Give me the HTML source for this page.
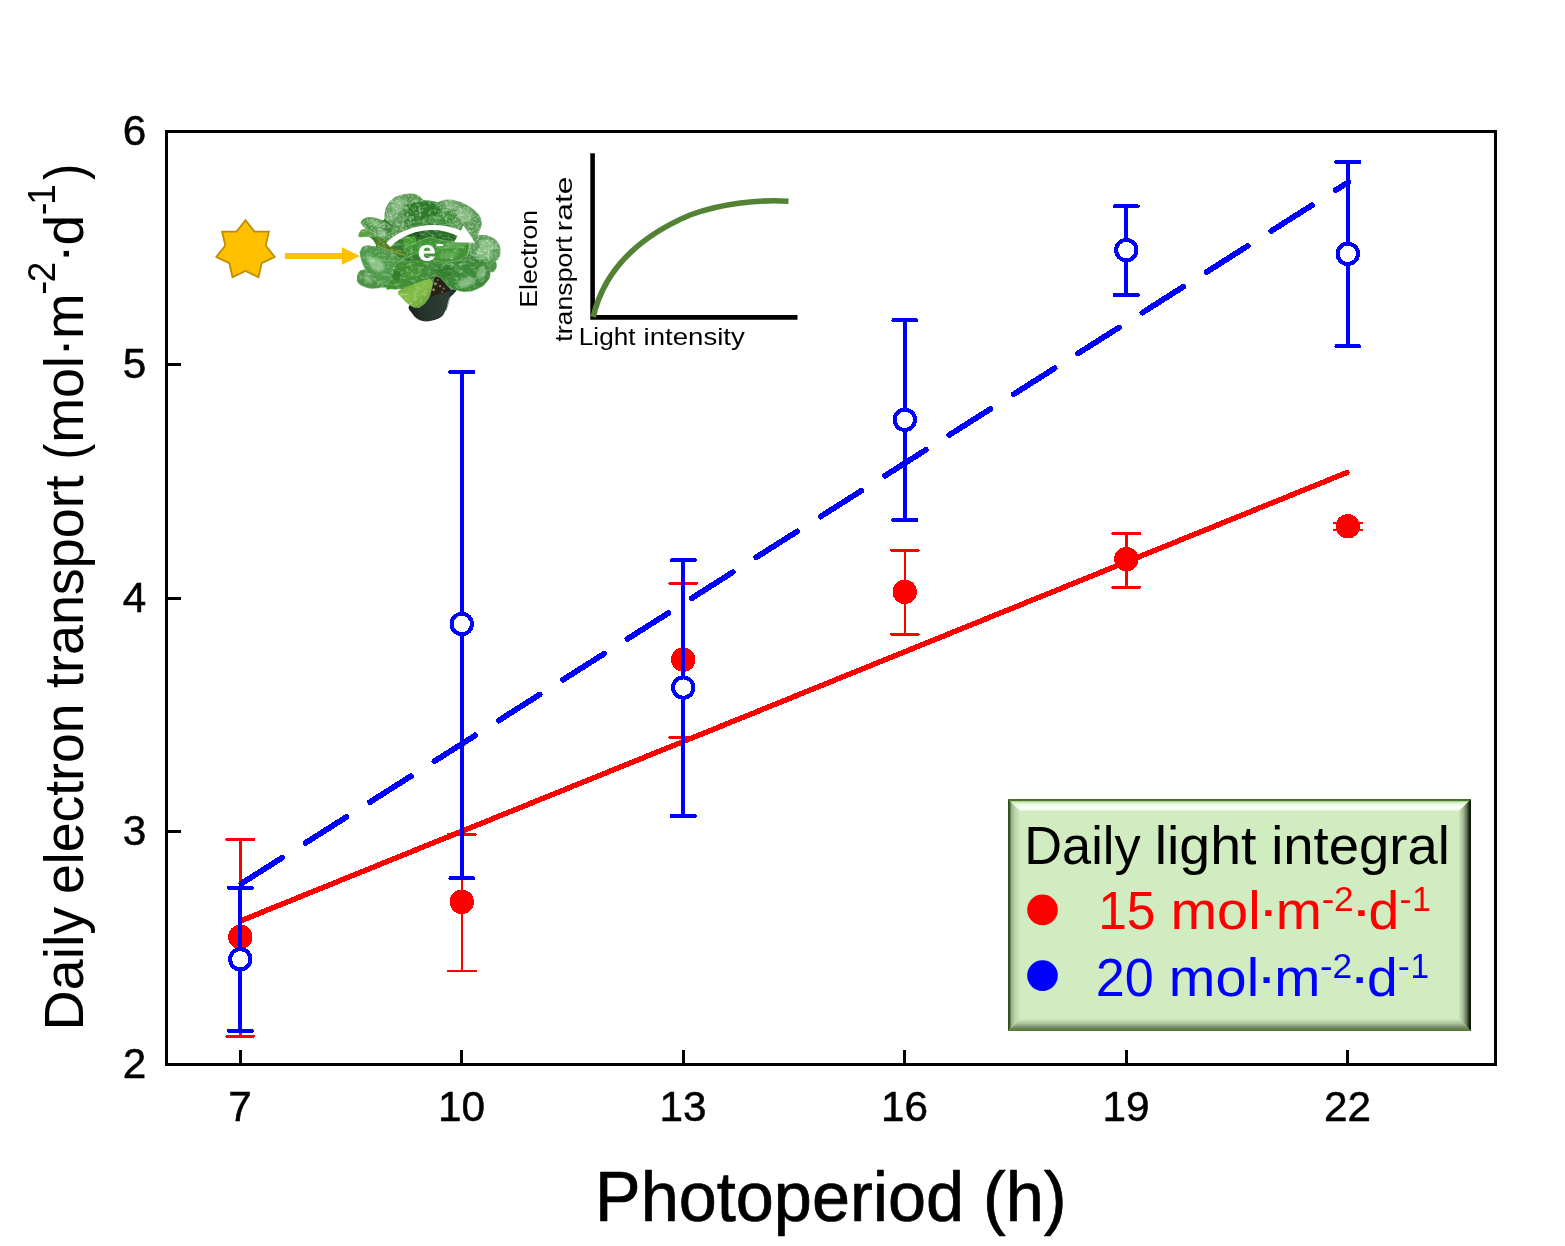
<!DOCTYPE html>
<html lang="en">
<head>
<meta charset="utf-8">
<title>Daily electron transport vs photoperiod</title>
<style>
html,body{margin:0;padding:0;background:#fff;}
body{width:1565px;height:1246px;overflow:hidden;font-family:"Liberation Sans",Arial,sans-serif;}
svg{display:block;}
</style>
</head>
<body>
<svg width="1565" height="1246" viewBox="0 0 1565 1246" font-family="'Liberation Sans', Arial, sans-serif">
<defs>
<linearGradient id="bvT" x1="0" y1="0" x2="0" y2="1">
<stop offset="0" stop-color="#436a22"/><stop offset="0.13" stop-color="#4f7a2b"/><stop offset="0.23" stop-color="#c6e7b1"/><stop offset="0.45" stop-color="#effae7"/><stop offset="0.75" stop-color="#fcfff8"/><stop offset="0.92" stop-color="#f2fbea"/><stop offset="1" stop-color="#d8f0c8"/>
</linearGradient>
<linearGradient id="bvB" x1="0" y1="1" x2="0" y2="0">
<stop offset="0" stop-color="#527a36"/><stop offset="0.12" stop-color="#5b8040"/><stop offset="0.3" stop-color="#768a6b"/><stop offset="0.6" stop-color="#a9bf9a"/><stop offset="1" stop-color="#cfe9be"/>
</linearGradient>
<linearGradient id="bvL" x1="0" y1="0" x2="1" y2="0">
<stop offset="0" stop-color="#2c4a18"/><stop offset="0.14" stop-color="#3d5d28"/><stop offset="0.3" stop-color="#9fb590"/><stop offset="0.6" stop-color="#bcd4ab"/><stop offset="1" stop-color="#cfe9be"/>
</linearGradient>
<linearGradient id="bvR" x1="1" y1="0" x2="0" y2="0">
<stop offset="0" stop-color="#0a1704"/><stop offset="0.14" stop-color="#14230d"/><stop offset="0.35" stop-color="#5d7052"/><stop offset="0.65" stop-color="#a3b994"/><stop offset="1" stop-color="#cbe5ba"/>
</linearGradient>
</defs>

<rect x="0" y="0" width="1565" height="1246" fill="#ffffff"/>
<g id="red-series" shape-rendering="crispEdges">
<path d="M240.3 839.5V1036.4M226.5 839.5H254.1M226.5 1036.4H254.1" stroke="#ff0000" stroke-width="2.4" fill="none" stroke-linecap="round"/>
<circle cx="240.3" cy="936.9" r="12.2" fill="#ff0000"/>
<path d="M461.8 834.4V971.2M448.0 834.4H475.6M448.0 971.2H475.6" stroke="#ff0000" stroke-width="2.4" fill="none" stroke-linecap="round"/>
<circle cx="461.8" cy="901.8" r="12.2" fill="#ff0000"/>
<path d="M683.3 583.4V737.5M669.5 583.4H697.1M669.5 737.5H697.1" stroke="#ff0000" stroke-width="2.4" fill="none" stroke-linecap="round"/>
<circle cx="683.3" cy="659.6" r="12.2" fill="#ff0000"/>
<path d="M904.8 550.4V634.4M891.0 550.4H918.6M891.0 634.4H918.6" stroke="#ff0000" stroke-width="2.4" fill="none" stroke-linecap="round"/>
<circle cx="904.8" cy="591.9" r="12.2" fill="#ff0000"/>
<path d="M1126.3 533.5V587.4M1112.5 533.5H1140.1M1112.5 587.4H1140.1" stroke="#ff0000" stroke-width="2.4" fill="none" stroke-linecap="round"/>
<circle cx="1126.3" cy="559.1" r="12.2" fill="#ff0000"/>
<path d="M1347.8 523.2V529.8M1334.0 523.2H1361.6M1334.0 529.8H1361.6" stroke="#ff0000" stroke-width="2.4" fill="none" stroke-linecap="round"/>
<circle cx="1347.8" cy="526.3" r="12.2" fill="#ff0000"/>
<line x1="242.3" y1="920.2" x2="1346.8" y2="472.6" stroke="#ff0000" stroke-width="5.4" stroke-linecap="round"/>
</g>
<g id="blue-series" shape-rendering="crispEdges">
<line x1="241.3" y1="883.6" x2="1348.3" y2="182.2" stroke="#0000ff" stroke-width="5.8" stroke-linecap="round" stroke-dasharray="48.4 27.8"/>
<path d="M240.3 887.9V1030.8M228.8 887.9H251.8M228.8 1030.8H251.8" stroke="#0000ff" stroke-width="4" fill="none" stroke-linecap="round"/>
<circle cx="240.3" cy="959.3" r="10.2" fill="#ffffff" stroke="#0000ff" stroke-width="4"/>
<path d="M461.8 372.0V878.2M450.3 372.0H473.3M450.3 878.2H473.3" stroke="#0000ff" stroke-width="4" fill="none" stroke-linecap="round"/>
<circle cx="461.8" cy="624.0" r="10.2" fill="#ffffff" stroke="#0000ff" stroke-width="4"/>
<path d="M683.3 560.2V816.0M671.8 560.2H694.8M671.8 816.0H694.8" stroke="#0000ff" stroke-width="4" fill="none" stroke-linecap="round"/>
<circle cx="683.3" cy="687.6" r="10.2" fill="#ffffff" stroke="#0000ff" stroke-width="4"/>
<path d="M904.8 320.2V520.0M893.3 320.2H916.3M893.3 520.0H916.3" stroke="#0000ff" stroke-width="4" fill="none" stroke-linecap="round"/>
<circle cx="904.8" cy="419.8" r="10.2" fill="#ffffff" stroke="#0000ff" stroke-width="4"/>
<path d="M1126.3 206.3V295.0M1114.8 206.3H1137.8M1114.8 295.0H1137.8" stroke="#0000ff" stroke-width="4" fill="none" stroke-linecap="round"/>
<circle cx="1126.3" cy="250.1" r="10.2" fill="#ffffff" stroke="#0000ff" stroke-width="4"/>
<path d="M1347.8 162.1V346.2M1336.3 162.1H1359.3M1336.3 346.2H1359.3" stroke="#0000ff" stroke-width="4" fill="none" stroke-linecap="round"/>
<circle cx="1347.8" cy="253.8" r="10.2" fill="#ffffff" stroke="#0000ff" stroke-width="4"/>
</g>
<g id="axes" stroke="#000" stroke-width="3" fill="none" shape-rendering="crispEdges">
<rect x="166.5" y="131.5" width="1329.0" height="933.0"/>
<path d="M240.3 1064.5v-14.5M461.8 1064.5v-14.5M683.3 1064.5v-14.5M904.8 1064.5v-14.5M1126.3 1064.5v-14.5M1347.8 1064.5v-14.5M166.5 831.2h14.5M166.5 598.0h14.5M166.5 364.8h14.5"/>
</g>
<g id="ticklabels" font-size="42.3" fill="#000" stroke="#000" stroke-width="0.5">
<text x="240.0" y="1120.8" text-anchor="middle">7</text>
<text x="461.5" y="1120.8" text-anchor="middle">10</text>
<text x="683.0" y="1120.8" text-anchor="middle">13</text>
<text x="904.5" y="1120.8" text-anchor="middle">16</text>
<text x="1126.0" y="1120.8" text-anchor="middle">19</text>
<text x="1347.5" y="1120.8" text-anchor="middle">22</text>
<text x="146.2" y="1078.0" text-anchor="end">2</text>
<text x="146.2" y="844.8" text-anchor="end">3</text>
<text x="146.2" y="611.5" text-anchor="end">4</text>
<text x="146.2" y="378.2" text-anchor="end">5</text>
<text x="146.2" y="145.0" text-anchor="end">6</text>
</g>
<g id="xtitle">
<text transform="translate(595.06 1221.00) scale(0.9975 1.0370)" font-size="68.6" fill="#000" stroke="#000" stroke-width="0.7" stroke-linejoin="round">Photoperiod (h)</text>
</g>
<g id="ytitle">
<text transform="translate(83.20 1030.38) rotate(-90) scale(1.0389 1.0340)" font-size="53.5" fill="#000">Daily</text>
<text transform="translate(83.20 894.05) rotate(-90) scale(1.0016 1.0340)" font-size="53.5" fill="#000">electron</text>
<text transform="translate(83.20 687.96) rotate(-90) scale(1.0071 1.0340)" font-size="53.5" fill="#000">transport</text>
<text transform="translate(83.20 459.60) rotate(-90) scale(0.8912 1.0340)" font-size="53.5" fill="#000">(</text>
<text transform="translate(83.20 442.72) rotate(-90) scale(1.0051 1.0340)" font-size="53.5" fill="#000">mol</text>
<text transform="translate(79.80 357.37) rotate(-90) scale(1.1789 1.0000)" font-size="50" fill="#000">·</text>
<text transform="translate(83.20 339.07) rotate(-90) scale(1.0213 1.0340)" font-size="53.5" fill="#000">m</text>
<text transform="translate(55.30 295.06) rotate(-90) scale(1.1778 1.0314)" font-size="37" fill="#000">-</text>
<text transform="translate(55.30 282.34) rotate(-90) scale(0.9941 1.0314)" font-size="37" fill="#000">2</text>
<text transform="translate(79.80 263.57) rotate(-90) scale(1.1789 1.0000)" font-size="50" fill="#000">·</text>
<text transform="translate(83.20 245.62) rotate(-90) scale(1.0292 1.0340)" font-size="53.5" fill="#000">d</text>
<text transform="translate(55.30 215.31) rotate(-90) scale(1.0333 1.0314)" font-size="37" fill="#000">-</text>
<text transform="translate(55.30 204.65) rotate(-90) scale(1.0000 1.0314)" font-size="37" fill="#000">1</text>
<text transform="translate(83.20 179.95) rotate(-90) scale(0.9071 1.0340)" font-size="53.5" fill="#000">)</text>
</g>
<polygon points="245.5,220.3 254.5,231.5 268.9,231.6 265.7,245.6 274.7,256.9 261.7,263.1 258.5,277.1 245.5,270.9 232.5,277.1 229.3,263.1 216.3,256.9 225.3,245.6 222.1,231.6 236.5,231.5" fill="#ffc000" stroke="#bc8e00" stroke-width="1.8" stroke-linejoin="miter"/>
<path d="M285 253H342V247.3L360 256L342 264.8V259H285Z" fill="#ffc000"/>
<g id="lettuce">
<defs>
<filter id="soft" x="-10%" y="-10%" width="120%" height="120%"><feGaussianBlur stdDeviation="0.5"/></filter>
<filter id="soft2" x="-40%" y="-40%" width="180%" height="180%"><feGaussianBlur stdDeviation="1.3"/></filter>
<filter id="soft3" x="-40%" y="-40%" width="180%" height="180%"><feGaussianBlur stdDeviation="2.2"/></filter>
<filter id="speck" x="0" y="0" width="100%" height="100%">
<feTurbulence type="fractalNoise" baseFrequency="0.42" numOctaves="2" seed="5"/>
<feColorMatrix type="matrix" values="0 0 0 0 0.80  0 0 0 0 0.93  0 0 0 0 0.80  0 0 0 3.0 -1.5"/>
<feGaussianBlur stdDeviation="0.5"/>
</filter>
<filter id="speck2" x="0" y="0" width="100%" height="100%">
<feTurbulence type="fractalNoise" baseFrequency="0.22 0.3" numOctaves="3" seed="23"/>
<feColorMatrix type="matrix" values="0 0 0 0 0.85  0 0 0 0 0.96  0 0 0 0 0.86  0 0 0 2.4 -1.25"/>
<feGaussianBlur stdDeviation="0.6"/>
</filter>
<linearGradient id="potG" x1="0" y1="0" x2="1" y2="0"><stop offset="0" stop-color="#17221c"/><stop offset="0.35" stop-color="#26352d"/><stop offset="0.8" stop-color="#2f3e36"/><stop offset="1" stop-color="#1c2922"/></linearGradient>
<linearGradient id="lfK" x1="0" y1="0" x2="1" y2="1"><stop offset="0" stop-color="#6aa828"/><stop offset="0.5" stop-color="#86be4a"/><stop offset="1" stop-color="#5f9e30"/></linearGradient>
</defs>
<path d="M409.3 305.7C407.2 308.7 410.3 310.5 412.0 313.2C413.7 315.9 415.4 317.6 418.0 319.2C420.7 320.9 422.8 321.0 425.2 321.3C427.6 321.7 427.7 321.5 430.0 321.0C432.3 320.6 434.2 320.2 436.6 319.2C439.0 318.3 440.4 317.8 442.0 316.2C443.7 314.7 444.1 313.2 445.0 311.4C446.0 309.6 446.3 309.1 446.9 307.2C447.5 305.3 447.5 303.7 448.1 301.8C448.7 299.8 448.7 299.2 449.9 297.6C451.1 295.9 452.8 295.0 454.1 293.3C455.3 291.7 457.4 290.2 456.2 289.4C455.0 288.7 452.1 289.2 448.1 289.7C444.0 290.3 441.2 290.5 436.0 292.1C430.9 293.8 427.6 295.4 422.2 298.2C416.9 300.9 411.3 302.7 409.3 305.7Z" fill="url(#potG)" filter="url(#soft)"/>
<path d="M449.9 297.6C449.4 299.3 449.0 300.8 448.1 304.2C447.1 307.5 446.7 308.6 446.3 310.2" fill="none" stroke="#55665d" stroke-width="1.0" stroke-linecap="round" opacity="0.6" filter="url(#soft)"/>
<path d="M427.6 278.9C428.9 273.6 430.6 276.5 433.6 275.9C436.7 275.2 436.1 275.0 439.0 276.5C441.9 277.9 441.4 278.1 444.4 281.3C447.5 284.5 449.8 285.6 450.5 288.5C451.1 291.4 450.4 290.5 446.9 292.1C443.3 293.7 442.0 293.6 437.2 294.5C432.4 295.5 431.4 299.9 428.8 295.7C426.2 291.6 426.3 284.2 427.6 278.9Z" fill="#2a2419" filter="url(#soft)"/>
<circle cx="435.4" cy="283.7" r="1.5" fill="#a38c62" filter="url(#soft)"/>
<circle cx="440.2" cy="286.1" r="1.2" fill="#8f7a55" filter="url(#soft)"/>
<circle cx="433.6" cy="289.7" r="1.3" fill="#b09a70" filter="url(#soft)"/>
<circle cx="443.8" cy="288.5" r="1.1" fill="#9a7c52" filter="url(#soft)"/>
<circle cx="437.8" cy="280.1" r="1.0" fill="#7d6c4c" filter="url(#soft)"/>
<circle cx="442.0" cy="292.1" r="1.0" fill="#6f5f45" filter="url(#soft)"/>
<circle cx="431.2" cy="286.1" r="1.0" fill="#85734f" filter="url(#soft)"/>
<path d="M388.4 203.6C390.3 201.1 392.9 198.3 396.5 196.6C400.2 195.0 406.6 193.6 410.5 193.7C414.4 193.8 417.3 196.0 419.8 197.2C422.3 198.5 423.3 200.6 425.6 201.3C428.0 202.0 431.3 201.0 433.8 201.3C436.3 201.6 438.2 203.2 440.8 203.0C443.3 202.8 445.4 200.2 448.9 200.1C452.4 200.0 458.0 201.1 461.7 202.5C465.4 203.8 468.1 206.1 471.0 208.3C473.9 210.4 477.4 212.5 479.2 215.3C480.9 218.0 481.7 221.5 481.5 224.6C481.3 227.7 478.9 231.9 478.0 233.9C477.1 235.8 475.1 236.0 476.3 236.2C477.4 236.4 481.8 234.5 485.0 235.0C488.2 235.6 492.9 237.6 495.5 239.7C498.0 241.8 499.6 244.9 500.1 247.8C500.6 250.7 499.2 255.0 498.4 257.1C497.5 259.3 495.2 259.1 494.9 260.6C494.6 262.2 496.8 264.7 496.6 266.5C496.4 268.2 494.9 270.0 493.7 271.1C492.5 272.2 490.7 271.3 489.6 272.9C488.6 274.4 489.2 277.8 487.3 280.4C485.4 283.0 481.5 286.8 478.0 288.6C474.5 290.3 470.1 290.9 466.4 291.1C462.6 291.3 458.4 290.5 455.3 289.7C452.2 288.9 450.2 288.2 447.7 286.2C445.3 284.3 442.9 279.4 440.8 278.1C438.6 276.7 436.5 276.1 434.9 278.1C433.4 280.0 433.2 285.8 431.5 289.7C429.7 293.6 427.2 298.5 424.5 301.4C421.8 304.3 418.1 307.0 415.2 307.2C412.3 307.4 409.7 304.9 407.0 302.5C404.3 300.2 399.8 295.3 398.9 293.2C397.9 291.1 402.0 290.7 401.2 289.7C400.4 288.8 397.3 287.8 394.2 287.4C391.1 287.0 385.7 287.6 382.6 287.4C379.5 287.2 378.3 286.4 375.6 286.5C372.9 286.5 369.0 288.3 366.3 287.6C363.6 287.0 360.9 284.5 359.3 282.7C357.8 281.0 356.9 278.9 357.0 276.9C357.1 275.0 358.5 272.5 359.9 271.1C361.2 269.7 364.8 270.5 365.1 268.8C365.4 267.0 362.4 263.3 361.6 260.6C360.9 257.9 360.3 254.8 360.5 252.5C360.7 250.2 361.4 247.8 362.8 246.7C364.2 245.5 366.4 245.6 368.6 245.5C370.8 245.4 375.8 247.3 376.2 246.1C376.6 244.8 373.4 239.6 370.9 237.9C368.5 236.3 363.6 236.9 361.6 236.2C359.7 235.5 359.1 234.9 359.1 233.9C359.1 232.8 360.2 230.6 361.6 229.8C363.0 229.0 367.5 230.5 367.5 229.2C367.5 228.0 362.0 224.1 361.6 222.2C361.2 220.4 363.2 218.9 365.1 218.2C367.1 217.4 370.2 217.3 373.3 217.6C376.4 217.9 381.8 220.9 383.7 219.9C385.7 218.9 384.1 214.5 384.9 211.8C385.7 209.0 386.5 206.1 388.4 203.6Z" fill="#347c2f" filter="url(#soft)"/>
<path d="M384.9 216.3C385.1 213.1 385.4 212.2 387.3 207.9C389.2 203.5 388.9 203.3 392.1 200.0C395.3 196.8 394.5 197.5 399.4 195.8C404.2 194.1 405.4 193.9 410.2 193.7C415.0 193.6 414.2 193.5 417.4 195.2C420.6 196.9 420.5 196.4 422.2 200.0C424.0 203.7 425.6 203.5 424.0 209.1C422.4 214.7 420.7 216.0 416.2 221.1C411.7 226.3 411.7 225.8 407.2 228.3C402.7 230.9 403.4 231.7 399.4 230.7C395.3 229.8 395.5 227.6 392.1 224.7C388.8 221.8 388.6 222.2 386.7 219.9C384.8 217.7 384.8 219.5 384.9 216.3Z" fill="#5a9853" stroke="#a5d09c" stroke-width="0.6" stroke-opacity="0.6" filter="url(#soft)"/>
<path d="M433.6 204.9C433.9 202.3 433.4 203.8 437.2 202.5C441.1 201.1 442.3 199.9 448.1 199.7C453.8 199.6 453.4 200.2 458.9 201.9C464.4 203.5 463.7 203.0 468.5 206.1C473.3 209.1 473.6 209.3 477.0 213.3C480.3 217.3 480.3 217.1 481.2 221.1C482.0 225.1 481.5 224.3 480.3 228.3C479.0 232.4 478.5 233.3 476.4 236.2C474.2 239.1 475.5 241.6 472.1 239.2C468.8 236.8 467.9 229.4 463.7 227.1C459.5 224.9 461.5 232.4 456.5 230.7C451.5 229.1 450.5 226.1 445.0 221.1C439.6 216.1 439.1 216.4 436.0 212.1C433.0 207.8 433.3 207.4 433.6 204.9Z" fill="#5a9855" stroke="#a5d09c" stroke-width="0.6" stroke-opacity="0.6" filter="url(#soft)"/>
<path d="M401.2 204.9C403.0 201.5 404.7 204.8 410.2 203.7C415.7 202.6 416.4 201.5 421.6 200.8C426.9 200.0 426.8 200.3 430.0 200.8C433.2 201.2 431.2 201.2 433.6 202.5C436.0 203.7 436.5 203.4 439.0 205.5C441.5 207.6 442.8 207.7 442.9 210.3C443.1 212.9 442.1 212.7 439.6 215.1C437.1 217.5 437.4 217.1 433.6 219.3C429.8 221.6 429.9 221.8 425.2 223.5C420.6 225.3 421.4 225.0 416.2 225.9C411.1 226.9 409.4 229.7 406.0 227.1C402.5 224.6 404.6 222.2 403.3 216.3C402.0 210.4 399.3 208.2 401.2 204.9Z" fill="#3d8838" stroke="#8fc586" stroke-width="0.6" stroke-opacity="0.8" filter="url(#soft)"/>
<path d="M410.2 204.9C413.9 201.7 415.4 202.0 421.6 201.9C427.9 201.7 429.0 202.7 433.6 204.3C438.3 205.9 437.9 205.5 439.0 207.9C440.2 210.3 439.9 211.0 437.8 213.3C435.7 215.5 435.4 214.9 431.2 216.3C427.0 217.7 427.0 217.4 422.2 218.7C417.4 220.0 417.1 222.4 413.2 221.1C409.4 219.8 408.6 218.2 407.8 213.9C407.0 209.6 406.5 208.1 410.2 204.9Z" fill="#2f7a2c" filter="url(#soft)"/>
<path d="M435.4 217.8C435.6 214.8 437.7 215.3 440.2 213.3C442.8 211.3 441.4 210.6 445.0 210.3C448.7 210.0 450.8 210.5 454.1 212.1C457.4 213.7 457.7 213.9 457.4 216.3C457.1 218.7 455.4 219.1 452.9 221.1C450.4 223.1 451.6 222.9 448.1 223.8C444.5 224.7 443.0 226.0 439.6 224.4C436.3 222.8 435.3 220.8 435.4 217.8Z" fill="#428f3d" stroke="#9acb90" stroke-width="0.6" stroke-opacity="0.6" filter="url(#soft)"/>
<path d="M430.0 217.5C431.0 215.9 431.5 215.3 433.6 216.3C435.7 217.3 437.2 219.2 437.8 221.1C438.5 223.0 438.1 223.2 436.0 223.5C433.9 223.8 431.6 223.9 430.0 222.3C428.4 220.7 429.0 219.1 430.0 217.5Z" fill="#4d9a48" stroke="#9acb90" stroke-width="0.6" stroke-opacity="0.6" filter="url(#soft)"/>
<path d="M361.1 221.7C361.9 220.0 362.7 219.6 365.0 218.4C367.4 217.3 366.2 217.1 369.9 217.4C373.6 217.6 374.6 217.7 378.9 219.3C383.2 220.9 382.6 221.4 386.1 223.5C389.6 225.6 388.4 225.1 392.1 227.1C395.8 229.1 399.0 228.5 400.0 231.0C400.9 233.6 398.8 233.6 395.7 236.8C392.7 239.9 391.7 242.1 388.5 242.8C385.3 243.4 386.9 240.5 383.7 239.2C380.5 237.9 379.1 239.6 376.5 238.0C373.9 236.4 376.6 235.4 374.1 233.2C371.5 230.9 370.1 231.8 366.9 229.5C363.6 227.3 363.6 226.8 362.0 224.7C360.5 222.6 360.3 223.4 361.1 221.7Z" fill="#4f9648" stroke="#a8d4a0" stroke-width="0.6" stroke-opacity="0.6" filter="url(#soft)"/>
<path d="M359.0 233.8C359.7 232.1 360.1 231.9 362.0 230.7C364.0 229.6 363.0 228.6 366.3 229.5C369.5 230.5 371.7 232.4 374.1 234.4C376.5 236.3 376.9 236.2 375.3 236.8C373.7 237.3 372.2 236.4 368.1 236.5C363.9 236.5 362.0 237.6 359.6 236.9C357.2 236.2 358.4 235.4 359.0 233.8Z" fill="#5aa040" stroke="#a8d4a0" stroke-width="0.6" stroke-opacity="0.6" filter="url(#soft)"/>
<path d="M375.9 236.8C377.6 235.0 380.3 237.6 383.7 239.2C387.1 240.8 385.3 240.4 388.5 242.8C391.7 245.2 390.6 245.3 395.7 248.2C400.9 251.1 405.5 251.4 407.8 253.6C410.0 255.9 408.3 256.6 404.2 256.6C400.0 256.6 398.2 255.7 392.1 253.6C386.0 251.5 385.3 250.9 381.3 248.8C377.3 246.7 378.5 249.0 377.1 245.8C375.6 242.6 374.1 238.5 375.9 236.8Z" fill="#4d7f24" filter="url(#soft)"/>
<path d="M378.3 246.4C380.4 247.1 381.5 247.5 386.1 249.1C390.8 250.7 390.9 250.9 395.7 252.4C400.6 253.9 401.9 254.2 404.2 254.8" fill="none" stroke="#7faf45" stroke-width="1.3" stroke-linecap="round" opacity="0.9" filter="url(#soft)"/>
<path d="M471.5 239.2C473.1 236.8 473.2 237.3 475.7 236.2C478.3 235.0 477.3 234.8 481.2 235.0C485.0 235.1 485.9 234.8 490.2 236.8C494.5 238.7 494.8 239.0 497.4 242.2C500.1 245.4 499.5 245.1 500.1 248.8C500.8 252.5 500.1 253.8 499.8 256.0C499.6 258.3 500.5 255.8 499.2 257.2C497.9 258.7 498.2 260.2 495.0 261.4C491.8 262.7 491.7 262.7 487.2 262.0C482.7 261.4 482.2 261.0 478.2 259.0C474.1 257.1 474.4 258.5 472.1 254.8C469.9 251.1 469.9 249.4 469.7 245.2C469.6 241.0 469.9 241.6 471.5 239.2Z" fill="#599a54" stroke="#b0d8a8" stroke-width="0.6" stroke-opacity="0.6" filter="url(#soft)"/>
<path d="M489.0 259.0C490.9 257.1 493.0 259.1 495.0 260.8C497.0 262.6 496.5 263.2 496.5 265.7C496.5 268.1 496.4 268.2 495.0 269.9C493.6 271.6 493.3 272.5 491.4 272.0C489.5 271.5 488.4 271.5 487.8 268.1C487.1 264.6 487.1 261.0 489.0 259.0Z" fill="#4f9548" stroke="#a8d4a0" stroke-width="0.6" stroke-opacity="0.6" filter="url(#soft)"/>
<path d="M404.2 238.0C405.8 234.8 406.2 235.1 410.2 233.2C414.2 231.2 413.9 231.6 419.2 230.7C424.5 229.9 423.9 230.0 430.0 230.1C436.1 230.3 434.8 229.6 442.0 231.4C449.3 233.1 454.2 234.2 457.1 236.8C460.0 239.3 456.9 239.5 452.9 241.0C448.9 242.4 448.1 241.1 442.0 242.2C435.9 243.3 436.1 242.8 430.0 245.2C423.9 247.6 424.8 249.1 419.2 251.2C413.6 253.3 413.0 254.6 409.0 253.0C405.0 251.4 405.5 249.2 404.2 245.2C402.9 241.2 402.6 241.2 404.2 238.0Z" fill="#2a6d25" filter="url(#soft)"/>
<path d="M404.2 239.2C406.1 236.9 407.6 236.8 410.8 236.8C414.0 236.8 415.6 236.9 416.2 239.2C416.9 241.4 415.6 242.8 413.2 245.2C410.8 247.6 409.8 248.2 407.2 248.2C404.6 248.2 404.4 247.6 403.6 245.2C402.8 242.8 402.2 241.4 404.2 239.2Z" fill="#4aa030" filter="url(#soft)"/>
<path d="M413.8 232.0C414.9 231.1 417.9 231.9 419.2 233.2C420.5 234.4 419.7 236.0 418.6 236.8C417.5 237.6 416.3 237.5 415.0 236.2C413.7 234.9 412.7 232.8 413.8 232.0Z" fill="#184a18" filter="url(#soft)"/>
<path d="M404.2 250.0C405.0 247.6 406.2 247.6 410.2 245.2C414.2 242.8 413.9 243.1 419.2 241.0C424.5 238.9 425.0 237.9 430.0 237.4C435.0 236.9 433.0 238.2 437.8 239.2C442.6 240.1 442.9 240.3 448.1 241.0C453.2 241.6 452.3 241.1 457.1 241.6C461.9 242.1 462.7 241.8 466.1 242.8C469.5 243.8 469.1 242.9 469.7 245.2C470.4 247.4 469.5 248.3 468.5 251.2C467.6 254.1 470.0 253.3 466.1 256.0C462.3 258.7 462.1 260.1 454.1 261.4C446.1 262.8 442.4 262.3 436.0 261.1C429.6 260.0 434.5 259.2 430.0 257.2C425.5 255.2 424.5 253.9 419.2 253.6C413.9 253.3 415.0 254.1 410.2 256.0C405.4 257.9 405.2 258.6 401.2 260.8C397.2 263.1 393.5 266.2 395.1 264.4C396.8 262.7 404.8 258.1 407.2 254.2C409.6 250.4 403.4 252.4 404.2 250.0Z" fill="#3f9436" stroke="#a8d89a" stroke-width="0.6" stroke-opacity="0.8" filter="url(#soft)"/>
<path d="M437.8 245.2C442.6 243.6 446.5 242.7 454.1 242.2C461.6 241.6 464.5 241.6 466.1 243.1C467.7 244.5 465.7 246.1 460.1 247.6C454.5 249.1 451.5 248.6 445.0 248.8C438.6 249.0 437.9 249.2 436.0 248.2C434.1 247.2 433.0 246.8 437.8 245.2Z" fill="#5aa850" filter="url(#soft)"/>
<path d="M425.2 263.8C426.5 258.6 425.5 261.9 430.0 261.7C434.5 261.6 434.0 263.7 442.0 263.4C450.1 263.0 450.5 261.5 460.1 260.4C469.7 259.2 470.9 257.8 478.2 259.0C485.4 260.3 484.0 261.0 487.2 265.0C490.4 269.1 490.4 269.4 490.2 274.1C490.0 278.7 489.5 278.7 486.3 282.5C483.1 286.4 483.5 286.1 478.2 288.5C472.8 291.0 472.1 291.3 466.1 291.7C460.2 292.0 460.2 290.8 455.9 289.8C451.6 288.9 453.1 290.3 449.9 288.0C446.7 285.8 447.1 284.4 443.8 281.3C440.6 278.3 440.9 278.1 437.8 276.6C434.8 275.2 435.8 274.6 432.4 275.9C429.0 277.1 427.1 284.5 425.2 281.3C423.3 278.1 423.9 269.1 425.2 263.8Z" fill="#3d8a38" stroke="#9fd096" stroke-width="0.6" stroke-opacity="0.6" filter="url(#soft)"/>
<path d="M392.1 265.0C397.0 258.6 396.1 263.0 404.2 262.0C412.2 261.1 415.8 259.8 422.2 261.4C428.7 263.0 427.3 263.4 428.3 268.1C429.2 272.7 429.1 274.7 425.8 278.9C422.6 283.1 421.2 281.6 416.2 283.7C411.2 285.8 411.7 285.4 407.2 286.7C402.7 288.1 403.4 288.2 399.4 288.8C395.3 289.5 395.7 289.8 392.1 289.1C388.6 288.4 386.1 292.5 386.1 286.1C386.1 279.7 387.3 271.5 392.1 265.0Z" fill="#3f8f30" stroke="#8cc47e" stroke-width="0.6" stroke-opacity="0.6" filter="url(#soft)"/>
<path d="M357.1 279.2C357.1 276.6 357.2 276.6 359.0 274.1C360.8 271.6 361.1 269.9 363.8 269.9C366.6 269.9 365.7 271.0 369.3 274.1C372.8 277.1 373.8 278.1 377.1 281.3C380.4 284.5 382.4 284.2 381.6 286.1C380.8 288.1 378.5 288.5 374.1 288.6C369.7 288.8 369.1 288.2 365.0 286.8C361.0 285.5 361.1 285.7 359.0 283.7C356.9 281.7 357.1 281.8 357.1 279.2Z" fill="#4c9244" stroke="#b0d8a8" stroke-width="0.6" stroke-opacity="0.6" filter="url(#soft)"/>
<path d="M360.2 251.2C361.6 249.3 361.4 247.6 365.0 246.5C368.7 245.4 368.5 245.7 374.1 247.0C379.7 248.3 379.7 248.5 386.1 251.2C392.5 253.9 395.6 253.9 398.2 257.2C400.7 260.6 397.0 260.5 395.7 263.8C394.5 267.2 394.6 266.0 393.3 269.9C392.1 273.7 392.9 274.6 390.9 278.3C389.0 282.0 389.3 282.6 386.1 283.7C382.9 284.8 382.7 284.3 378.9 282.5C375.0 280.7 375.2 280.5 371.7 277.1C368.1 273.7 368.2 273.9 365.7 269.9C363.1 265.9 363.6 266.4 362.0 262.0C360.5 257.7 360.4 256.5 359.9 253.6C359.5 250.7 358.9 253.1 360.2 251.2Z" fill="#4f9a4c" stroke="#b0d8a8" stroke-width="0.6" stroke-opacity="0.6" filter="url(#soft)"/>
<path d="M398.2 292.1C398.6 289.6 399.4 290.8 404.2 288.5C409.0 286.3 410.1 286.0 416.2 283.7C422.3 281.5 422.9 280.7 427.1 280.1C431.2 279.5 430.9 278.1 431.9 281.3C432.8 284.5 431.8 287.3 430.7 292.1C429.5 297.0 429.9 295.8 427.7 299.4C425.4 302.9 425.3 303.2 422.2 305.4C419.2 307.6 419.7 307.9 416.2 307.6C412.7 307.3 412.7 306.7 409.0 304.2C405.3 301.7 405.3 301.4 402.4 298.2C399.5 294.9 397.7 294.7 398.2 292.1Z" fill="url(#lfK)" stroke="#a8d070" stroke-width="0.6" stroke-opacity="0.6" filter="url(#soft)"/>
<ellipse cx="377.1" cy="265.0" rx="8.5" ry="6.0" transform="rotate(35 377.1 265.0)" fill="#b5ddb0" opacity="0.6" filter="url(#soft2)"/>
<ellipse cx="369.9" cy="259.0" rx="5.0" ry="3.0" transform="rotate(40 369.9 259.0)" fill="#c5e6c0" opacity="0.5" filter="url(#soft2)"/>
<ellipse cx="398.2" cy="275.3" rx="6.0" ry="5.0" transform="rotate(0 398.2 275.3)" fill="#2a7026" opacity="0.6" filter="url(#soft2)"/>
<ellipse cx="368.1" cy="278.9" rx="5.0" ry="2.5" transform="rotate(40 368.1 278.9)" fill="#c0e2bc" opacity="0.55" filter="url(#soft2)"/>
<ellipse cx="466.1" cy="282.5" rx="9.0" ry="4.5" transform="rotate(-20 466.1 282.5)" fill="#b5dcb4" opacity="0.6" filter="url(#soft2)"/>
<ellipse cx="481.2" cy="272.9" rx="4.5" ry="7.0" transform="rotate(20 481.2 272.9)" fill="#b5dcb4" opacity="0.5" filter="url(#soft2)"/>
<ellipse cx="445.0" cy="271.1" rx="8.0" ry="6.0" transform="rotate(0 445.0 271.1)" fill="#2c7528" opacity="0.5" filter="url(#soft2)"/>
<ellipse cx="484.2" cy="253.6" rx="9.0" ry="5.0" transform="rotate(10 484.2 253.6)" fill="#b8deb4" opacity="0.5" filter="url(#soft2)"/>
<ellipse cx="487.2" cy="245.2" rx="8.0" ry="6.0" transform="rotate(10 487.2 245.2)" fill="#b8deb4" opacity="0.5" filter="url(#soft2)"/>
<ellipse cx="463.7" cy="215.1" rx="9.0" ry="6.0" transform="rotate(40 463.7 215.1)" fill="#b5dcb0" opacity="0.5" filter="url(#soft2)"/>
<ellipse cx="451.1" cy="205.5" rx="8.0" ry="3.5" transform="rotate(15 451.1 205.5)" fill="#a8d4a4" opacity="0.45" filter="url(#soft2)"/>
<ellipse cx="398.2" cy="204.9" rx="8.0" ry="6.0" transform="rotate(-40 398.2 204.9)" fill="#b5dcb0" opacity="0.5" filter="url(#soft2)"/>
<ellipse cx="390.9" cy="216.3" rx="5.0" ry="4.0" transform="rotate(-40 390.9 216.3)" fill="#b5dcb0" opacity="0.4" filter="url(#soft2)"/>
<ellipse cx="375.3" cy="223.5" rx="8.0" ry="3.0" transform="rotate(20 375.3 223.5)" fill="#b0d8ac" opacity="0.45" filter="url(#soft2)"/>
<ellipse cx="381.3" cy="233.2" rx="5.0" ry="4.0" transform="rotate(40 381.3 233.2)" fill="#c0e2bc" opacity="0.45" filter="url(#soft2)"/>
<ellipse cx="389.1" cy="229.5" rx="5.0" ry="3.0" transform="rotate(30 389.1 229.5)" fill="#256a22" opacity="0.5" filter="url(#soft2)"/>
<ellipse cx="410.2" cy="274.1" rx="9.0" ry="5.0" transform="rotate(-20 410.2 274.1)" fill="#4fa238" opacity="0.5" filter="url(#soft2)"/>
<ellipse cx="448.1" cy="254.8" rx="10.0" ry="3.0" transform="rotate(-8 448.1 254.8)" fill="#7fc070" opacity="0.5" filter="url(#soft2)"/>
<path d="M451.1 263.5C453.5 265.2 455.8 266.6 460.1 269.9C464.4 273.2 463.8 273.5 467.3 275.9C470.9 278.3 471.7 278.1 473.3 278.9" fill="none" stroke="#8cc080" stroke-width="0.7" stroke-linecap="round" opacity="0.8" filter="url(#soft)"/>
<path d="M369.9 257.8C372.6 258.3 375.0 258.8 380.1 259.6C385.2 260.4 385.3 260.6 389.1 260.8C393.0 261.1 393.1 260.6 394.5 260.5" fill="none" stroke="#9fd090" stroke-width="0.7" stroke-linecap="round" opacity="0.8" filter="url(#soft)"/>
<path d="M457.7 228.3C459.3 226.7 460.2 225.2 463.7 222.3C467.2 219.4 467.7 219.4 470.9 217.5C474.1 215.6 474.5 215.7 475.7 215.1" fill="none" stroke="#9acb8c" stroke-width="0.7" stroke-linecap="round" opacity="0.8" filter="url(#soft)"/>
<path d="M468.5 250.0C468.2 251.6 468.6 252.8 467.3 256.0C466.0 259.2 465.6 259.6 463.7 262.0C461.8 264.4 461.1 264.2 460.1 265.0" fill="none" stroke="#b0d8a0" stroke-width="0.7" stroke-linecap="round" opacity="0.8" filter="url(#soft)"/>
<clipPath id="spClip"><path d="M384.9 216.3C385.1 213.1 385.4 212.2 387.3 207.9C389.2 203.5 388.9 203.3 392.1 200.0C395.3 196.8 394.5 197.5 399.4 195.8C404.2 194.1 405.4 193.9 410.2 193.7C415.0 193.6 414.2 193.5 417.4 195.2C420.6 196.9 420.5 196.4 422.2 200.0C424.0 203.7 425.6 203.5 424.0 209.1C422.4 214.7 420.7 216.0 416.2 221.1C411.7 226.3 411.7 225.8 407.2 228.3C402.7 230.9 403.4 231.7 399.4 230.7C395.3 229.8 395.5 227.6 392.1 224.7C388.8 221.8 388.6 222.2 386.7 219.9C384.8 217.7 384.8 219.5 384.9 216.3Z"/><path d="M433.6 204.9C433.9 202.3 433.4 203.8 437.2 202.5C441.1 201.1 442.3 199.9 448.1 199.7C453.8 199.6 453.4 200.2 458.9 201.9C464.4 203.5 463.7 203.0 468.5 206.1C473.3 209.1 473.6 209.3 477.0 213.3C480.3 217.3 480.3 217.1 481.2 221.1C482.0 225.1 481.5 224.3 480.3 228.3C479.0 232.4 478.5 233.3 476.4 236.2C474.2 239.1 475.5 241.6 472.1 239.2C468.8 236.8 467.9 229.4 463.7 227.1C459.5 224.9 461.5 232.4 456.5 230.7C451.5 229.1 450.5 226.1 445.0 221.1C439.6 216.1 439.1 216.4 436.0 212.1C433.0 207.8 433.3 207.4 433.6 204.9Z"/><path d="M471.5 239.2C473.1 236.8 473.2 237.3 475.7 236.2C478.3 235.0 477.3 234.8 481.2 235.0C485.0 235.1 485.9 234.8 490.2 236.8C494.5 238.7 494.8 239.0 497.4 242.2C500.1 245.4 499.5 245.1 500.1 248.8C500.8 252.5 500.1 253.8 499.8 256.0C499.6 258.3 500.5 255.8 499.2 257.2C497.9 258.7 498.2 260.2 495.0 261.4C491.8 262.7 491.7 262.7 487.2 262.0C482.7 261.4 482.2 261.0 478.2 259.0C474.1 257.1 474.4 258.5 472.1 254.8C469.9 251.1 469.9 249.4 469.7 245.2C469.6 241.0 469.9 241.6 471.5 239.2Z"/><path d="M361.1 221.7C361.9 220.0 362.7 219.6 365.0 218.4C367.4 217.3 366.2 217.1 369.9 217.4C373.6 217.6 374.6 217.7 378.9 219.3C383.2 220.9 382.6 221.4 386.1 223.5C389.6 225.6 388.4 225.1 392.1 227.1C395.8 229.1 399.0 228.5 400.0 231.0C400.9 233.6 398.8 233.6 395.7 236.8C392.7 239.9 391.7 242.1 388.5 242.8C385.3 243.4 386.9 240.5 383.7 239.2C380.5 237.9 379.1 239.6 376.5 238.0C373.9 236.4 376.6 235.4 374.1 233.2C371.5 230.9 370.1 231.8 366.9 229.5C363.6 227.3 363.6 226.8 362.0 224.7C360.5 222.6 360.3 223.4 361.1 221.7Z"/></clipPath>
<rect x="355" y="190" width="150" height="75" filter="url(#speck)" opacity="0.55" clip-path="url(#spClip)"/>
<clipPath id="silClip"><path d="M388.4 203.6C390.3 201.1 392.9 198.3 396.5 196.6C400.2 195.0 406.6 193.6 410.5 193.7C414.4 193.8 417.3 196.0 419.8 197.2C422.3 198.5 423.3 200.6 425.6 201.3C428.0 202.0 431.3 201.0 433.8 201.3C436.3 201.6 438.2 203.2 440.8 203.0C443.3 202.8 445.4 200.2 448.9 200.1C452.4 200.0 458.0 201.1 461.7 202.5C465.4 203.8 468.1 206.1 471.0 208.3C473.9 210.4 477.4 212.5 479.2 215.3C480.9 218.0 481.7 221.5 481.5 224.6C481.3 227.7 478.9 231.9 478.0 233.9C477.1 235.8 475.1 236.0 476.3 236.2C477.4 236.4 481.8 234.5 485.0 235.0C488.2 235.6 492.9 237.6 495.5 239.7C498.0 241.8 499.6 244.9 500.1 247.8C500.6 250.7 499.2 255.0 498.4 257.1C497.5 259.3 495.2 259.1 494.9 260.6C494.6 262.2 496.8 264.7 496.6 266.5C496.4 268.2 494.9 270.0 493.7 271.1C492.5 272.2 490.7 271.3 489.6 272.9C488.6 274.4 489.2 277.8 487.3 280.4C485.4 283.0 481.5 286.8 478.0 288.6C474.5 290.3 470.1 290.9 466.4 291.1C462.6 291.3 458.4 290.5 455.3 289.7C452.2 288.9 450.2 288.2 447.7 286.2C445.3 284.3 442.9 279.4 440.8 278.1C438.6 276.7 436.5 276.1 434.9 278.1C433.4 280.0 433.2 285.8 431.5 289.7C429.7 293.6 427.2 298.5 424.5 301.4C421.8 304.3 418.1 307.0 415.2 307.2C412.3 307.4 409.7 304.9 407.0 302.5C404.3 300.2 399.8 295.3 398.9 293.2C397.9 291.1 402.0 290.7 401.2 289.7C400.4 288.8 397.3 287.8 394.2 287.4C391.1 287.0 385.7 287.6 382.6 287.4C379.5 287.2 378.3 286.4 375.6 286.5C372.9 286.5 369.0 288.3 366.3 287.6C363.6 287.0 360.9 284.5 359.3 282.7C357.8 281.0 356.9 278.9 357.0 276.9C357.1 275.0 358.5 272.5 359.9 271.1C361.2 269.7 364.8 270.5 365.1 268.8C365.4 267.0 362.4 263.3 361.6 260.6C360.9 257.9 360.3 254.8 360.5 252.5C360.7 250.2 361.4 247.8 362.8 246.7C364.2 245.5 366.4 245.6 368.6 245.5C370.8 245.4 375.8 247.3 376.2 246.1C376.6 244.8 373.4 239.6 370.9 237.9C368.5 236.3 363.6 236.9 361.6 236.2C359.7 235.5 359.1 234.9 359.1 233.9C359.1 232.8 360.2 230.6 361.6 229.8C363.0 229.0 367.5 230.5 367.5 229.2C367.5 228.0 362.0 224.1 361.6 222.2C361.2 220.4 363.2 218.9 365.1 218.2C367.1 217.4 370.2 217.3 373.3 217.6C376.4 217.9 381.8 220.9 383.7 219.9C385.7 218.9 384.1 214.5 384.9 211.8C385.7 209.0 386.5 206.1 388.4 203.6Z"/></clipPath>
<rect x="355" y="190" width="150" height="115" filter="url(#speck2)" opacity="0.5" clip-path="url(#silClip)"/>
<path d="M386.3 242.9 C401.2 226.9 433.8 218.7 460.8 230.6 L463.5 225.5 L475.1 242.7 L454.1 242.2 L457.6 235.7 C433.8 224.6 405.9 230.6 390.3 247.1Z" fill="#ffffff"/>
</g>
<text transform="translate(417.53 260.80) scale(1.0125 0.9000)" font-size="33" fill="#fff" font-weight="700">e</text>
<text transform="translate(435.87 249.20) scale(1.1130 0.7500)" font-size="22" fill="#fff" font-weight="700">-</text>
<g id="mini">
<path d="M592.6 153.3V317.4H797.5" fill="none" stroke="#000" stroke-width="4.6"/>
<path d="M593.2 317 C 606 262, 650 232, 690 215 C 722 203, 760 199.5, 788.5 201.2" fill="none" stroke="#548235" stroke-width="5.6"/>
<text transform="translate(578.82 344.60) scale(1.0894 1.0303)" font-size="24" fill="#000">Light</text>
<text transform="translate(643.57 344.60) scale(1.1503 1.0303)" font-size="24" fill="#000">intensity</text>
<text transform="translate(537.40 307.82) rotate(-90) scale(1.1124 1.0303)" font-size="24" fill="#000">Electron</text>
<text transform="translate(572.00 341.68) rotate(-90) scale(1.1119 1.0303)" font-size="24" fill="#000">transport</text>
<text transform="translate(572.00 231.39) rotate(-90) scale(1.3265 1.0303)" font-size="24" fill="#000">rate</text>
</g>
<g id="legend">
<rect x="1008.0" y="799.0" width="463.0" height="232.0" fill="#d1ecc0"/>
<polygon points="1008.0,799.0 1471.0,799.0 1459.0,811.0 1020.0,811.0" fill="url(#bvT)"/>
<polygon points="1008.0,1031.0 1471.0,1031.0 1459.0,1019.0 1020.0,1019.0" fill="url(#bvB)"/>
<polygon points="1008.0,799.0 1020.0,811.0 1020.0,1019.0 1008.0,1031.0" fill="url(#bvL)"/>
<polygon points="1471.0,799.0 1459.0,811.0 1459.0,1019.0 1471.0,1031.0" fill="url(#bvR)"/>
<text transform="translate(1024.30 864.20) scale(0.9777 1.0014)" font-size="53.5" fill="#000">Daily</text>
<text transform="translate(1154.67 864.20) scale(1.0377 1.0014)" font-size="53.5" fill="#000">light</text>
<text transform="translate(1271.24 864.20) scale(1.0175 1.0014)" font-size="53.5" fill="#000">integral</text>
<circle cx="1042.5" cy="909.9" r="15.3" fill="#ff0000"/>
<text transform="translate(1098.14 929.10) scale(0.9653 1.0014)" font-size="53.5" fill="#ff0000">15</text>
<text transform="translate(1170.44 929.10) scale(1.0468 1.0014)" font-size="53.5" fill="#ff0000">mol</text>
<text transform="translate(1257.38 927.50) scale(1.2190 1.0014)" font-size="53.5" fill="#ff0000">·</text>
<text transform="translate(1275.78 929.10) scale(1.0347 1.0014)" font-size="53.5" fill="#ff0000">m</text>
<text transform="translate(1321.68 910.70) scale(1.0824 1.0125)" font-size="35" fill="#ff0000">-</text>
<text transform="translate(1334.04 910.70) scale(1.0063 1.0125)" font-size="35" fill="#ff0000">2</text>
<text transform="translate(1350.14 927.50) scale(1.2571 1.0014)" font-size="53.5" fill="#ff0000">·</text>
<text transform="translate(1368.47 929.10) scale(1.0333 1.0014)" font-size="53.5" fill="#ff0000">d</text>
<text transform="translate(1399.45 910.70) scale(1.0353 1.0125)" font-size="35" fill="#ff0000">-</text>
<text transform="translate(1412.18 910.70) scale(0.9533 1.0125)" font-size="35" fill="#ff0000">1</text>
<circle cx="1042.5" cy="975.6" r="15.3" fill="#0000ff"/>
<text transform="translate(1095.72 996.40) scale(0.9753 1.0014)" font-size="53.5" fill="#0000ff">20</text>
<text transform="translate(1168.84 996.40) scale(1.0468 1.0014)" font-size="53.5" fill="#0000ff">mol</text>
<text transform="translate(1255.78 994.80) scale(1.2190 1.0014)" font-size="53.5" fill="#0000ff">·</text>
<text transform="translate(1274.18 996.40) scale(1.0347 1.0014)" font-size="53.5" fill="#0000ff">m</text>
<text transform="translate(1320.08 978.00) scale(1.0824 1.0125)" font-size="35" fill="#0000ff">-</text>
<text transform="translate(1332.44 978.00) scale(1.0063 1.0125)" font-size="35" fill="#0000ff">2</text>
<text transform="translate(1348.54 994.80) scale(1.2571 1.0014)" font-size="53.5" fill="#0000ff">·</text>
<text transform="translate(1366.88 996.40) scale(1.0333 1.0014)" font-size="53.5" fill="#0000ff">d</text>
<text transform="translate(1397.85 978.00) scale(1.0353 1.0125)" font-size="35" fill="#0000ff">-</text>
<text transform="translate(1410.58 978.00) scale(0.9533 1.0125)" font-size="35" fill="#0000ff">1</text>
</g>
</svg>
</body>
</html>
